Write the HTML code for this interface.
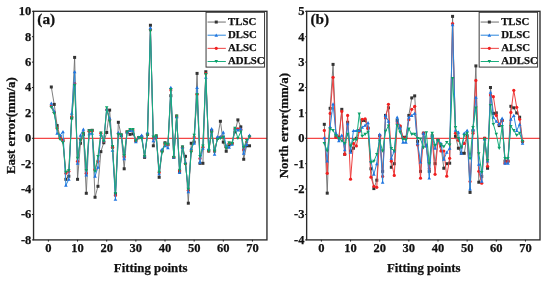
<!DOCTYPE html>
<html><head><meta charset="utf-8"><style>
html,body{margin:0;padding:0;background:#fff;width:550px;height:283px;overflow:hidden}
body{position:relative}
svg text{font-family:"Liberation Serif", "DejaVu Serif", serif;fill:#111;stroke:#111;stroke-width:0.25px}
</style></head><body>
<svg width="550" height="283" viewBox="0 0 550 283" style="position:absolute;left:0;top:0"><line x1="33.55" y1="138.30" x2="266.95" y2="138.30" stroke="#f01818" stroke-width="1"/><path d="M51.31 86.99 L54.23 104.39 L57.14 125.60 L60.06 136.39 L62.97 140.33 L65.89 179.32 L68.81 176.27 L71.72 117.98 L74.63 57.40 L77.55 179.32 L80.47 143.25 L83.38 134.49 L86.30 193.29 L89.21 130.68 L92.12 130.30 L95.04 197.23 L97.95 186.31 L100.87 151.64 L103.78 142.75 L106.70 132.46 L109.62 110.11 L112.53 147.19 L115.44 194.18 L118.36 122.30 L121.28 135.76 L124.19 168.78 L127.10 131.95 L130.02 134.36 L132.94 133.85 L135.85 140.84 L138.76 137.66 L141.68 137.03 L144.59 157.35 L147.51 134.49 L150.43 25.27 L153.34 145.79 L156.25 137.03 L159.17 177.29 L162.09 151.00 L165.00 142.75 L167.91 144.65 L170.83 95.75 L173.75 157.35 L176.66 116.71 L179.58 171.32 L182.49 147.19 L185.41 156.33 L188.32 203.20 L191.24 143.25 L194.15 142.11 L197.06 73.40 L199.98 163.32 L202.90 163.32 L205.81 71.75 L208.72 151.00 L211.64 130.68 L214.56 151.00 L217.47 138.30 L220.39 121.28 L223.30 142.11 L226.22 151.25 L229.13 144.65 L232.05 143.25 L234.96 131.95 L237.88 119.89 L240.79 126.87 L243.71 159.26 L246.62 145.79 L249.53 145.79" fill="none" stroke="#707070" stroke-width="0.9" stroke-linejoin="round"/><g><rect x="49.81" y="85.49" width="3.00" height="3.00" fill="#333333"/><rect x="52.73" y="102.89" width="3.00" height="3.00" fill="#333333"/><rect x="55.64" y="124.10" width="3.00" height="3.00" fill="#333333"/><rect x="58.56" y="134.89" width="3.00" height="3.00" fill="#333333"/><rect x="61.47" y="138.83" width="3.00" height="3.00" fill="#333333"/><rect x="64.39" y="177.82" width="3.00" height="3.00" fill="#333333"/><rect x="67.31" y="174.77" width="3.00" height="3.00" fill="#333333"/><rect x="70.22" y="116.48" width="3.00" height="3.00" fill="#333333"/><rect x="73.13" y="55.90" width="3.00" height="3.00" fill="#333333"/><rect x="76.05" y="177.82" width="3.00" height="3.00" fill="#333333"/><rect x="78.97" y="141.75" width="3.00" height="3.00" fill="#333333"/><rect x="81.88" y="132.99" width="3.00" height="3.00" fill="#333333"/><rect x="84.80" y="191.79" width="3.00" height="3.00" fill="#333333"/><rect x="87.71" y="129.18" width="3.00" height="3.00" fill="#333333"/><rect x="90.62" y="128.80" width="3.00" height="3.00" fill="#333333"/><rect x="93.54" y="195.73" width="3.00" height="3.00" fill="#333333"/><rect x="96.45" y="184.81" width="3.00" height="3.00" fill="#333333"/><rect x="99.37" y="150.14" width="3.00" height="3.00" fill="#333333"/><rect x="102.28" y="141.25" width="3.00" height="3.00" fill="#333333"/><rect x="105.20" y="130.96" width="3.00" height="3.00" fill="#333333"/><rect x="108.12" y="108.61" width="3.00" height="3.00" fill="#333333"/><rect x="111.03" y="145.69" width="3.00" height="3.00" fill="#333333"/><rect x="113.94" y="192.68" width="3.00" height="3.00" fill="#333333"/><rect x="116.86" y="120.80" width="3.00" height="3.00" fill="#333333"/><rect x="119.78" y="134.26" width="3.00" height="3.00" fill="#333333"/><rect x="122.69" y="167.28" width="3.00" height="3.00" fill="#333333"/><rect x="125.60" y="130.45" width="3.00" height="3.00" fill="#333333"/><rect x="128.52" y="132.86" width="3.00" height="3.00" fill="#333333"/><rect x="131.44" y="132.35" width="3.00" height="3.00" fill="#333333"/><rect x="134.35" y="139.34" width="3.00" height="3.00" fill="#333333"/><rect x="137.26" y="136.16" width="3.00" height="3.00" fill="#333333"/><rect x="140.18" y="135.53" width="3.00" height="3.00" fill="#333333"/><rect x="143.09" y="155.85" width="3.00" height="3.00" fill="#333333"/><rect x="146.01" y="132.99" width="3.00" height="3.00" fill="#333333"/><rect x="148.93" y="23.77" width="3.00" height="3.00" fill="#333333"/><rect x="151.84" y="144.29" width="3.00" height="3.00" fill="#333333"/><rect x="154.75" y="135.53" width="3.00" height="3.00" fill="#333333"/><rect x="157.67" y="175.79" width="3.00" height="3.00" fill="#333333"/><rect x="160.59" y="149.50" width="3.00" height="3.00" fill="#333333"/><rect x="163.50" y="141.25" width="3.00" height="3.00" fill="#333333"/><rect x="166.41" y="143.15" width="3.00" height="3.00" fill="#333333"/><rect x="169.33" y="94.25" width="3.00" height="3.00" fill="#333333"/><rect x="172.25" y="155.85" width="3.00" height="3.00" fill="#333333"/><rect x="175.16" y="115.21" width="3.00" height="3.00" fill="#333333"/><rect x="178.08" y="169.82" width="3.00" height="3.00" fill="#333333"/><rect x="180.99" y="145.69" width="3.00" height="3.00" fill="#333333"/><rect x="183.91" y="154.83" width="3.00" height="3.00" fill="#333333"/><rect x="186.82" y="201.70" width="3.00" height="3.00" fill="#333333"/><rect x="189.74" y="141.75" width="3.00" height="3.00" fill="#333333"/><rect x="192.65" y="140.61" width="3.00" height="3.00" fill="#333333"/><rect x="195.56" y="71.90" width="3.00" height="3.00" fill="#333333"/><rect x="198.48" y="161.82" width="3.00" height="3.00" fill="#333333"/><rect x="201.40" y="161.82" width="3.00" height="3.00" fill="#333333"/><rect x="204.31" y="70.25" width="3.00" height="3.00" fill="#333333"/><rect x="207.22" y="149.50" width="3.00" height="3.00" fill="#333333"/><rect x="210.14" y="129.18" width="3.00" height="3.00" fill="#333333"/><rect x="213.06" y="149.50" width="3.00" height="3.00" fill="#333333"/><rect x="215.97" y="136.80" width="3.00" height="3.00" fill="#333333"/><rect x="218.89" y="119.78" width="3.00" height="3.00" fill="#333333"/><rect x="221.80" y="140.61" width="3.00" height="3.00" fill="#333333"/><rect x="224.72" y="149.75" width="3.00" height="3.00" fill="#333333"/><rect x="227.63" y="143.15" width="3.00" height="3.00" fill="#333333"/><rect x="230.55" y="141.75" width="3.00" height="3.00" fill="#333333"/><rect x="233.46" y="130.45" width="3.00" height="3.00" fill="#333333"/><rect x="236.38" y="118.39" width="3.00" height="3.00" fill="#333333"/><rect x="239.29" y="125.37" width="3.00" height="3.00" fill="#333333"/><rect x="242.21" y="157.76" width="3.00" height="3.00" fill="#333333"/><rect x="245.12" y="144.29" width="3.00" height="3.00" fill="#333333"/><rect x="248.03" y="144.29" width="3.00" height="3.00" fill="#333333"/></g><path d="M51.31 105.92 L54.23 112.26 L57.14 128.14 L60.06 138.30 L62.97 140.84 L65.89 173.23 L68.81 171.32 L71.72 116.71 L74.63 83.31 L77.55 161.29 L80.47 139.57 L83.38 132.59 L86.30 173.23 L89.21 131.31 L92.12 130.93 L95.04 169.29 L97.95 161.16 L100.87 133.22 L103.78 141.47 L106.70 109.85 L109.62 119.89 L112.53 147.19 L115.44 195.45 L118.36 133.85 L121.28 134.74 L124.19 156.72 L127.10 131.95 L130.02 130.04 L132.94 130.04 L135.85 140.84 L138.76 137.66 L141.68 137.03 L144.59 156.08 L147.51 134.49 L150.43 29.84 L153.34 138.30 L156.25 135.76 L159.17 172.59 L162.09 151.00 L165.00 144.01 L167.91 144.65 L170.83 90.04 L173.75 157.35 L176.66 115.95 L179.58 170.69 L182.49 147.19 L185.41 163.70 L188.32 190.24 L191.24 151.00 L194.15 137.03 L197.06 94.36 L199.98 158.62 L202.90 147.19 L205.81 73.53 L208.72 151.00 L211.64 131.95 L214.56 151.00 L217.47 138.30 L220.39 137.03 L223.30 137.03 L226.22 147.19 L229.13 143.38 L232.05 143.38 L234.96 128.77 L237.88 128.77 L240.79 129.28 L243.71 149.73 L246.62 142.11 L249.53 136.39" fill="none" stroke="#ee4040" stroke-width="1.0" stroke-linejoin="round"/><g><circle cx="51.31" cy="105.92" r="1.6" fill="#f02020"/><circle cx="54.23" cy="112.26" r="1.6" fill="#f02020"/><circle cx="57.14" cy="128.14" r="1.6" fill="#f02020"/><circle cx="60.06" cy="138.30" r="1.6" fill="#f02020"/><circle cx="62.97" cy="140.84" r="1.6" fill="#f02020"/><circle cx="65.89" cy="173.23" r="1.6" fill="#f02020"/><circle cx="68.81" cy="171.32" r="1.6" fill="#f02020"/><circle cx="71.72" cy="116.71" r="1.6" fill="#f02020"/><circle cx="74.63" cy="83.31" r="1.6" fill="#f02020"/><circle cx="77.55" cy="161.29" r="1.6" fill="#f02020"/><circle cx="80.47" cy="139.57" r="1.6" fill="#f02020"/><circle cx="83.38" cy="132.59" r="1.6" fill="#f02020"/><circle cx="86.30" cy="173.23" r="1.6" fill="#f02020"/><circle cx="89.21" cy="131.31" r="1.6" fill="#f02020"/><circle cx="92.12" cy="130.93" r="1.6" fill="#f02020"/><circle cx="95.04" cy="169.29" r="1.6" fill="#f02020"/><circle cx="97.95" cy="161.16" r="1.6" fill="#f02020"/><circle cx="100.87" cy="133.22" r="1.6" fill="#f02020"/><circle cx="103.78" cy="141.47" r="1.6" fill="#f02020"/><circle cx="106.70" cy="109.85" r="1.6" fill="#f02020"/><circle cx="109.62" cy="119.89" r="1.6" fill="#f02020"/><circle cx="112.53" cy="147.19" r="1.6" fill="#f02020"/><circle cx="115.44" cy="195.45" r="1.6" fill="#f02020"/><circle cx="118.36" cy="133.85" r="1.6" fill="#f02020"/><circle cx="121.28" cy="134.74" r="1.6" fill="#f02020"/><circle cx="124.19" cy="156.72" r="1.6" fill="#f02020"/><circle cx="127.10" cy="131.95" r="1.6" fill="#f02020"/><circle cx="130.02" cy="130.04" r="1.6" fill="#f02020"/><circle cx="132.94" cy="130.04" r="1.6" fill="#f02020"/><circle cx="135.85" cy="140.84" r="1.6" fill="#f02020"/><circle cx="138.76" cy="137.66" r="1.6" fill="#f02020"/><circle cx="141.68" cy="137.03" r="1.6" fill="#f02020"/><circle cx="144.59" cy="156.08" r="1.6" fill="#f02020"/><circle cx="147.51" cy="134.49" r="1.6" fill="#f02020"/><circle cx="150.43" cy="29.84" r="1.6" fill="#f02020"/><circle cx="153.34" cy="138.30" r="1.6" fill="#f02020"/><circle cx="156.25" cy="135.76" r="1.6" fill="#f02020"/><circle cx="159.17" cy="172.59" r="1.6" fill="#f02020"/><circle cx="162.09" cy="151.00" r="1.6" fill="#f02020"/><circle cx="165.00" cy="144.01" r="1.6" fill="#f02020"/><circle cx="167.91" cy="144.65" r="1.6" fill="#f02020"/><circle cx="170.83" cy="90.04" r="1.6" fill="#f02020"/><circle cx="173.75" cy="157.35" r="1.6" fill="#f02020"/><circle cx="176.66" cy="115.95" r="1.6" fill="#f02020"/><circle cx="179.58" cy="170.69" r="1.6" fill="#f02020"/><circle cx="182.49" cy="147.19" r="1.6" fill="#f02020"/><circle cx="185.41" cy="163.70" r="1.6" fill="#f02020"/><circle cx="188.32" cy="190.24" r="1.6" fill="#f02020"/><circle cx="191.24" cy="151.00" r="1.6" fill="#f02020"/><circle cx="194.15" cy="137.03" r="1.6" fill="#f02020"/><circle cx="197.06" cy="94.36" r="1.6" fill="#f02020"/><circle cx="199.98" cy="158.62" r="1.6" fill="#f02020"/><circle cx="202.90" cy="147.19" r="1.6" fill="#f02020"/><circle cx="205.81" cy="73.53" r="1.6" fill="#f02020"/><circle cx="208.72" cy="151.00" r="1.6" fill="#f02020"/><circle cx="211.64" cy="131.95" r="1.6" fill="#f02020"/><circle cx="214.56" cy="151.00" r="1.6" fill="#f02020"/><circle cx="217.47" cy="138.30" r="1.6" fill="#f02020"/><circle cx="220.39" cy="137.03" r="1.6" fill="#f02020"/><circle cx="223.30" cy="137.03" r="1.6" fill="#f02020"/><circle cx="226.22" cy="147.19" r="1.6" fill="#f02020"/><circle cx="229.13" cy="143.38" r="1.6" fill="#f02020"/><circle cx="232.05" cy="143.38" r="1.6" fill="#f02020"/><circle cx="234.96" cy="128.77" r="1.6" fill="#f02020"/><circle cx="237.88" cy="128.77" r="1.6" fill="#f02020"/><circle cx="240.79" cy="129.28" r="1.6" fill="#f02020"/><circle cx="243.71" cy="149.73" r="1.6" fill="#f02020"/><circle cx="246.62" cy="142.11" r="1.6" fill="#f02020"/><circle cx="249.53" cy="136.39" r="1.6" fill="#f02020"/></g><path d="M51.31 103.38 L54.23 111.63 L57.14 133.22 L60.06 135.25 L62.97 131.70 L65.89 185.29 L68.81 179.32 L71.72 113.28 L74.63 71.75 L77.55 163.32 L80.47 135.25 L83.38 129.28 L86.30 175.13 L89.21 133.85 L92.12 133.22 L95.04 176.27 L97.95 167.26 L100.87 134.49 L103.78 140.84 L106.70 109.09 L109.62 117.98 L112.53 150.24 L115.44 199.26 L118.36 132.59 L121.28 135.12 L124.19 158.75 L127.10 131.95 L130.02 130.68 L132.94 130.68 L135.85 141.86 L138.76 137.28 L141.68 135.25 L144.59 156.08 L147.51 132.33 L150.43 27.81 L153.34 140.84 L156.25 136.39 L159.17 173.86 L162.09 149.35 L165.00 145.92 L167.91 147.83 L170.83 87.50 L173.75 157.35 L176.66 116.71 L179.58 172.59 L182.49 147.19 L185.41 162.43 L188.32 191.89 L191.24 148.46 L194.15 143.25 L197.06 87.50 L199.98 162.30 L202.90 148.33 L205.81 77.34 L208.72 148.46 L211.64 128.77 L214.56 154.30 L217.47 136.78 L220.39 137.03 L223.30 132.33 L226.22 145.92 L229.13 147.32 L232.05 144.27 L234.96 128.77 L237.88 130.04 L240.79 128.77 L243.71 153.29 L246.62 144.65 L249.53 135.25" fill="none" stroke="#2a86dc" stroke-width="1.0" stroke-linejoin="round"/><g><path d="M51.31 101.58L53.11 104.81L49.52 104.81Z" fill="#1f74e0"/><path d="M54.23 109.83L56.03 113.07L52.43 113.07Z" fill="#1f74e0"/><path d="M57.14 131.42L58.94 134.66L55.34 134.66Z" fill="#1f74e0"/><path d="M60.06 133.45L61.86 136.69L58.26 136.69Z" fill="#1f74e0"/><path d="M62.97 129.90L64.77 133.14L61.17 133.14Z" fill="#1f74e0"/><path d="M65.89 183.49L67.69 186.73L64.09 186.73Z" fill="#1f74e0"/><path d="M68.81 177.52L70.61 180.76L67.01 180.76Z" fill="#1f74e0"/><path d="M71.72 111.48L73.52 114.72L69.92 114.72Z" fill="#1f74e0"/><path d="M74.63 69.95L76.43 73.19L72.83 73.19Z" fill="#1f74e0"/><path d="M77.55 161.52L79.35 164.76L75.75 164.76Z" fill="#1f74e0"/><path d="M80.47 133.45L82.27 136.69L78.67 136.69Z" fill="#1f74e0"/><path d="M83.38 127.48L85.18 130.72L81.58 130.72Z" fill="#1f74e0"/><path d="M86.30 173.33L88.09 176.57L84.50 176.57Z" fill="#1f74e0"/><path d="M89.21 132.05L91.01 135.29L87.41 135.29Z" fill="#1f74e0"/><path d="M92.12 131.42L93.92 134.66L90.33 134.66Z" fill="#1f74e0"/><path d="M95.04 174.47L96.84 177.71L93.24 177.71Z" fill="#1f74e0"/><path d="M97.95 165.46L99.75 168.70L96.16 168.70Z" fill="#1f74e0"/><path d="M100.87 132.69L102.67 135.93L99.07 135.93Z" fill="#1f74e0"/><path d="M103.78 139.04L105.58 142.28L101.98 142.28Z" fill="#1f74e0"/><path d="M106.70 107.29L108.50 110.53L104.90 110.53Z" fill="#1f74e0"/><path d="M109.62 116.18L111.42 119.42L107.82 119.42Z" fill="#1f74e0"/><path d="M112.53 148.44L114.33 151.68L110.73 151.68Z" fill="#1f74e0"/><path d="M115.44 197.46L117.24 200.70L113.64 200.70Z" fill="#1f74e0"/><path d="M118.36 130.78L120.16 134.03L116.56 134.03Z" fill="#1f74e0"/><path d="M121.28 133.32L123.08 136.56L119.48 136.56Z" fill="#1f74e0"/><path d="M124.19 156.95L125.99 160.19L122.39 160.19Z" fill="#1f74e0"/><path d="M127.10 130.15L128.91 133.39L125.30 133.39Z" fill="#1f74e0"/><path d="M130.02 128.88L131.82 132.12L128.22 132.12Z" fill="#1f74e0"/><path d="M132.94 128.88L134.74 132.12L131.13 132.12Z" fill="#1f74e0"/><path d="M135.85 140.06L137.65 143.30L134.05 143.30Z" fill="#1f74e0"/><path d="M138.76 135.48L140.56 138.72L136.96 138.72Z" fill="#1f74e0"/><path d="M141.68 133.45L143.48 136.69L139.88 136.69Z" fill="#1f74e0"/><path d="M144.59 154.28L146.40 157.52L142.79 157.52Z" fill="#1f74e0"/><path d="M147.51 130.53L149.31 133.77L145.71 133.77Z" fill="#1f74e0"/><path d="M150.43 26.01L152.23 29.25L148.62 29.25Z" fill="#1f74e0"/><path d="M153.34 139.04L155.14 142.28L151.54 142.28Z" fill="#1f74e0"/><path d="M156.25 134.59L158.06 137.83L154.45 137.83Z" fill="#1f74e0"/><path d="M159.17 172.06L160.97 175.30L157.37 175.30Z" fill="#1f74e0"/><path d="M162.09 147.55L163.89 150.79L160.28 150.79Z" fill="#1f74e0"/><path d="M165.00 144.12L166.80 147.36L163.20 147.36Z" fill="#1f74e0"/><path d="M167.91 146.03L169.72 149.27L166.11 149.27Z" fill="#1f74e0"/><path d="M170.83 85.70L172.63 88.94L169.03 88.94Z" fill="#1f74e0"/><path d="M173.75 155.55L175.55 158.79L171.94 158.79Z" fill="#1f74e0"/><path d="M176.66 114.91L178.46 118.15L174.86 118.15Z" fill="#1f74e0"/><path d="M179.58 170.79L181.38 174.03L177.78 174.03Z" fill="#1f74e0"/><path d="M182.49 145.39L184.29 148.63L180.69 148.63Z" fill="#1f74e0"/><path d="M185.41 160.63L187.21 163.87L183.60 163.87Z" fill="#1f74e0"/><path d="M188.32 190.09L190.12 193.33L186.52 193.33Z" fill="#1f74e0"/><path d="M191.24 146.66L193.04 149.90L189.44 149.90Z" fill="#1f74e0"/><path d="M194.15 141.45L195.95 144.69L192.35 144.69Z" fill="#1f74e0"/><path d="M197.06 85.70L198.87 88.94L195.26 88.94Z" fill="#1f74e0"/><path d="M199.98 160.50L201.78 163.74L198.18 163.74Z" fill="#1f74e0"/><path d="M202.90 146.53L204.70 149.77L201.09 149.77Z" fill="#1f74e0"/><path d="M205.81 75.54L207.61 78.78L204.01 78.78Z" fill="#1f74e0"/><path d="M208.72 146.66L210.53 149.90L206.92 149.90Z" fill="#1f74e0"/><path d="M211.64 126.97L213.44 130.21L209.84 130.21Z" fill="#1f74e0"/><path d="M214.56 152.50L216.36 155.74L212.75 155.74Z" fill="#1f74e0"/><path d="M217.47 134.98L219.27 138.22L215.67 138.22Z" fill="#1f74e0"/><path d="M220.39 135.23L222.19 138.47L218.59 138.47Z" fill="#1f74e0"/><path d="M223.30 130.53L225.10 133.77L221.50 133.77Z" fill="#1f74e0"/><path d="M226.22 144.12L228.02 147.36L224.41 147.36Z" fill="#1f74e0"/><path d="M229.13 145.52L230.93 148.76L227.33 148.76Z" fill="#1f74e0"/><path d="M232.05 142.47L233.85 145.71L230.25 145.71Z" fill="#1f74e0"/><path d="M234.96 126.97L236.76 130.21L233.16 130.21Z" fill="#1f74e0"/><path d="M237.88 128.24L239.68 131.48L236.07 131.48Z" fill="#1f74e0"/><path d="M240.79 126.97L242.59 130.21L238.99 130.21Z" fill="#1f74e0"/><path d="M243.71 151.49L245.51 154.73L241.91 154.73Z" fill="#1f74e0"/><path d="M246.62 142.85L248.42 146.09L244.82 146.09Z" fill="#1f74e0"/><path d="M249.53 133.45L251.34 136.69L247.73 136.69Z" fill="#1f74e0"/></g><path d="M51.31 107.31 L54.23 113.53 L57.14 128.77 L60.06 139.32 L62.97 142.75 L65.89 172.21 L68.81 170.30 L71.72 118.61 L74.63 85.34 L77.55 158.24 L80.47 140.21 L83.38 133.35 L86.30 170.30 L89.21 130.81 L92.12 130.68 L95.04 171.32 L97.95 156.33 L100.87 132.84 L103.78 141.35 L106.70 107.57 L109.62 121.16 L112.53 146.30 L115.44 193.29 L118.36 134.49 L121.28 134.74 L124.19 155.32 L127.10 131.82 L130.02 129.28 L132.94 129.28 L135.85 140.84 L138.76 137.66 L141.68 138.30 L144.59 156.33 L147.51 135.25 L150.43 30.99 L153.34 136.78 L156.25 135.76 L159.17 172.21 L162.09 152.27 L165.00 143.76 L167.91 144.27 L170.83 89.28 L173.75 157.35 L176.66 115.95 L179.58 170.05 L182.49 146.81 L185.41 164.34 L188.32 189.10 L191.24 152.27 L194.15 135.25 L197.06 94.36 L199.98 156.33 L202.90 145.92 L205.81 74.29 L208.72 151.25 L211.64 132.33 L214.56 151.25 L217.47 139.32 L220.39 138.30 L223.30 137.03 L226.22 148.33 L229.13 142.75 L232.05 143.38 L234.96 128.27 L237.88 138.30 L240.79 131.82 L243.71 147.32 L246.62 140.33 L249.53 136.78" fill="none" stroke="#1aad7e" stroke-width="1.0" stroke-linejoin="round"/><g><path d="M51.31 109.06L53.06 105.91L49.56 105.91Z" fill="#0c9f68"/><path d="M54.23 115.28L55.98 112.13L52.48 112.13Z" fill="#0c9f68"/><path d="M57.14 130.52L58.89 127.37L55.39 127.37Z" fill="#0c9f68"/><path d="M60.06 141.07L61.81 137.92L58.31 137.92Z" fill="#0c9f68"/><path d="M62.97 144.50L64.72 141.34L61.22 141.34Z" fill="#0c9f68"/><path d="M65.89 173.96L67.64 170.81L64.14 170.81Z" fill="#0c9f68"/><path d="M68.81 172.05L70.56 168.90L67.06 168.90Z" fill="#0c9f68"/><path d="M71.72 120.36L73.47 117.21L69.97 117.21Z" fill="#0c9f68"/><path d="M74.63 87.09L76.38 83.94L72.88 83.94Z" fill="#0c9f68"/><path d="M77.55 159.99L79.30 156.84L75.80 156.84Z" fill="#0c9f68"/><path d="M80.47 141.96L82.22 138.81L78.72 138.81Z" fill="#0c9f68"/><path d="M83.38 135.10L85.13 131.95L81.63 131.95Z" fill="#0c9f68"/><path d="M86.30 172.05L88.05 168.90L84.55 168.90Z" fill="#0c9f68"/><path d="M89.21 132.56L90.96 129.41L87.46 129.41Z" fill="#0c9f68"/><path d="M92.12 132.43L93.88 129.28L90.38 129.28Z" fill="#0c9f68"/><path d="M95.04 173.07L96.79 169.92L93.29 169.92Z" fill="#0c9f68"/><path d="M97.95 158.08L99.70 154.93L96.20 154.93Z" fill="#0c9f68"/><path d="M100.87 134.59L102.62 131.44L99.12 131.44Z" fill="#0c9f68"/><path d="M103.78 143.10L105.53 139.95L102.03 139.95Z" fill="#0c9f68"/><path d="M106.70 109.32L108.45 106.17L104.95 106.17Z" fill="#0c9f68"/><path d="M109.62 122.91L111.37 119.75L107.87 119.75Z" fill="#0c9f68"/><path d="M112.53 148.05L114.28 144.90L110.78 144.90Z" fill="#0c9f68"/><path d="M115.44 195.04L117.19 191.89L113.69 191.89Z" fill="#0c9f68"/><path d="M118.36 136.24L120.11 133.09L116.61 133.09Z" fill="#0c9f68"/><path d="M121.28 136.49L123.03 133.34L119.53 133.34Z" fill="#0c9f68"/><path d="M124.19 157.07L125.94 153.92L122.44 153.92Z" fill="#0c9f68"/><path d="M127.10 133.57L128.85 130.42L125.35 130.42Z" fill="#0c9f68"/><path d="M130.02 131.03L131.77 127.88L128.27 127.88Z" fill="#0c9f68"/><path d="M132.94 131.03L134.69 127.88L131.19 127.88Z" fill="#0c9f68"/><path d="M135.85 142.59L137.60 139.44L134.10 139.44Z" fill="#0c9f68"/><path d="M138.76 139.41L140.51 136.26L137.01 136.26Z" fill="#0c9f68"/><path d="M141.68 140.05L143.43 136.90L139.93 136.90Z" fill="#0c9f68"/><path d="M144.59 158.08L146.34 154.93L142.84 154.93Z" fill="#0c9f68"/><path d="M147.51 137.00L149.26 133.85L145.76 133.85Z" fill="#0c9f68"/><path d="M150.43 32.74L152.18 29.59L148.68 29.59Z" fill="#0c9f68"/><path d="M153.34 138.53L155.09 135.38L151.59 135.38Z" fill="#0c9f68"/><path d="M156.25 137.51L158.00 134.36L154.50 134.36Z" fill="#0c9f68"/><path d="M159.17 173.96L160.92 170.81L157.42 170.81Z" fill="#0c9f68"/><path d="M162.09 154.02L163.84 150.87L160.34 150.87Z" fill="#0c9f68"/><path d="M165.00 145.51L166.75 142.36L163.25 142.36Z" fill="#0c9f68"/><path d="M167.91 146.02L169.66 142.87L166.16 142.87Z" fill="#0c9f68"/><path d="M170.83 91.03L172.58 87.88L169.08 87.88Z" fill="#0c9f68"/><path d="M173.75 159.10L175.50 155.95L172.00 155.95Z" fill="#0c9f68"/><path d="M176.66 117.70L178.41 114.55L174.91 114.55Z" fill="#0c9f68"/><path d="M179.58 171.80L181.33 168.65L177.83 168.65Z" fill="#0c9f68"/><path d="M182.49 148.56L184.24 145.41L180.74 145.41Z" fill="#0c9f68"/><path d="M185.41 166.09L187.16 162.94L183.66 162.94Z" fill="#0c9f68"/><path d="M188.32 190.85L190.07 187.70L186.57 187.70Z" fill="#0c9f68"/><path d="M191.24 154.02L192.99 150.87L189.49 150.87Z" fill="#0c9f68"/><path d="M194.15 137.00L195.90 133.85L192.40 133.85Z" fill="#0c9f68"/><path d="M197.06 96.11L198.81 92.96L195.31 92.96Z" fill="#0c9f68"/><path d="M199.98 158.08L201.73 154.93L198.23 154.93Z" fill="#0c9f68"/><path d="M202.90 147.67L204.65 144.52L201.15 144.52Z" fill="#0c9f68"/><path d="M205.81 76.04L207.56 72.89L204.06 72.89Z" fill="#0c9f68"/><path d="M208.72 153.00L210.47 149.85L206.97 149.85Z" fill="#0c9f68"/><path d="M211.64 134.08L213.39 130.93L209.89 130.93Z" fill="#0c9f68"/><path d="M214.56 153.00L216.31 149.85L212.81 149.85Z" fill="#0c9f68"/><path d="M217.47 141.07L219.22 137.92L215.72 137.92Z" fill="#0c9f68"/><path d="M220.39 140.05L222.14 136.90L218.64 136.90Z" fill="#0c9f68"/><path d="M223.30 138.78L225.05 135.63L221.55 135.63Z" fill="#0c9f68"/><path d="M226.22 150.08L227.97 146.93L224.47 146.93Z" fill="#0c9f68"/><path d="M229.13 144.50L230.88 141.34L227.38 141.34Z" fill="#0c9f68"/><path d="M232.05 145.13L233.80 141.98L230.30 141.98Z" fill="#0c9f68"/><path d="M234.96 130.02L236.71 126.87L233.21 126.87Z" fill="#0c9f68"/><path d="M237.88 140.05L239.62 136.90L236.12 136.90Z" fill="#0c9f68"/><path d="M240.79 133.57L242.54 130.42L239.04 130.42Z" fill="#0c9f68"/><path d="M243.71 149.07L245.46 145.92L241.96 145.92Z" fill="#0c9f68"/><path d="M246.62 142.08L248.37 138.93L244.87 138.93Z" fill="#0c9f68"/><path d="M249.53 138.53L251.28 135.38L247.78 135.38Z" fill="#0c9f68"/></g><rect x="33.55" y="11.30" width="233.40" height="228.60" fill="none" stroke="#2a2a2a" stroke-width="1.35"/><line x1="31.95" y1="239.90" x2="33.55" y2="239.90" stroke="#222" stroke-width="1"/><text x="31.30" y="243.80" text-anchor="end" font-size="12.5" font-weight="bold">-8</text><line x1="31.95" y1="214.50" x2="33.55" y2="214.50" stroke="#222" stroke-width="1"/><text x="31.30" y="218.40" text-anchor="end" font-size="12.5" font-weight="bold">-6</text><line x1="31.95" y1="189.10" x2="33.55" y2="189.10" stroke="#222" stroke-width="1"/><text x="31.30" y="193.00" text-anchor="end" font-size="12.5" font-weight="bold">-4</text><line x1="31.95" y1="163.70" x2="33.55" y2="163.70" stroke="#222" stroke-width="1"/><text x="31.30" y="167.60" text-anchor="end" font-size="12.5" font-weight="bold">-2</text><line x1="31.95" y1="138.30" x2="33.55" y2="138.30" stroke="#222" stroke-width="1"/><text x="31.30" y="142.20" text-anchor="end" font-size="12.5" font-weight="bold">0</text><line x1="31.95" y1="112.90" x2="33.55" y2="112.90" stroke="#222" stroke-width="1"/><text x="31.30" y="116.80" text-anchor="end" font-size="12.5" font-weight="bold">2</text><line x1="31.95" y1="87.50" x2="33.55" y2="87.50" stroke="#222" stroke-width="1"/><text x="31.30" y="91.40" text-anchor="end" font-size="12.5" font-weight="bold">4</text><line x1="31.95" y1="62.10" x2="33.55" y2="62.10" stroke="#222" stroke-width="1"/><text x="31.30" y="66.00" text-anchor="end" font-size="12.5" font-weight="bold">6</text><line x1="31.95" y1="36.70" x2="33.55" y2="36.70" stroke="#222" stroke-width="1"/><text x="31.30" y="40.60" text-anchor="end" font-size="12.5" font-weight="bold">8</text><line x1="31.95" y1="11.30" x2="33.55" y2="11.30" stroke="#222" stroke-width="1"/><text x="31.30" y="15.20" text-anchor="end" font-size="12.5" font-weight="bold">10</text><line x1="48.40" y1="239.90" x2="48.40" y2="241.60" stroke="#222" stroke-width="1"/><text x="48.40" y="252.30" text-anchor="middle" font-size="12.5" font-weight="bold">0</text><line x1="77.55" y1="239.90" x2="77.55" y2="241.60" stroke="#222" stroke-width="1"/><text x="77.55" y="252.30" text-anchor="middle" font-size="12.5" font-weight="bold">10</text><line x1="106.70" y1="239.90" x2="106.70" y2="241.60" stroke="#222" stroke-width="1"/><text x="106.70" y="252.30" text-anchor="middle" font-size="12.5" font-weight="bold">20</text><line x1="135.85" y1="239.90" x2="135.85" y2="241.60" stroke="#222" stroke-width="1"/><text x="135.85" y="252.30" text-anchor="middle" font-size="12.5" font-weight="bold">30</text><line x1="165.00" y1="239.90" x2="165.00" y2="241.60" stroke="#222" stroke-width="1"/><text x="165.00" y="252.30" text-anchor="middle" font-size="12.5" font-weight="bold">40</text><line x1="194.15" y1="239.90" x2="194.15" y2="241.60" stroke="#222" stroke-width="1"/><text x="194.15" y="252.30" text-anchor="middle" font-size="12.5" font-weight="bold">50</text><line x1="223.30" y1="239.90" x2="223.30" y2="241.60" stroke="#222" stroke-width="1"/><text x="223.30" y="252.30" text-anchor="middle" font-size="12.5" font-weight="bold">60</text><line x1="252.45" y1="239.90" x2="252.45" y2="241.60" stroke="#222" stroke-width="1"/><text x="252.45" y="252.30" text-anchor="middle" font-size="12.5" font-weight="bold">70</text><text x="150.65" y="272.2" text-anchor="middle" font-size="12.8" font-weight="bold">Fitting points</text><text transform="translate(15.30,125.60) rotate(-90)" x="0" y="0" text-anchor="middle" font-size="12.9" font-weight="bold">East error(mm/a)</text><text x="37.35" y="24.20" font-size="15.3" font-weight="bold">(a)</text><rect x="206.05" y="12.30" width="58.50" height="54.80" fill="#fff" stroke="#3a3a3a" stroke-width="1"/><line x1="207.55" y1="22.05" x2="225.85" y2="22.05" stroke="#707070" stroke-width="1"/><rect x="214.75" y="20.55" width="3.00" height="3.00" fill="#333333"/><text x="228.05" y="24.90" font-size="10.8" font-weight="bold">TLSC</text><line x1="207.55" y1="35.20" x2="225.85" y2="35.20" stroke="#2a86dc" stroke-width="1"/><path d="M216.25 33.40L218.05 36.64L214.45 36.64Z" fill="#1f74e0"/><text x="228.05" y="38.05" font-size="10.8" font-weight="bold">DLSC</text><line x1="207.55" y1="48.35" x2="225.85" y2="48.35" stroke="#ee4040" stroke-width="1"/><circle cx="216.25" cy="48.35" r="1.6" fill="#f02020"/><text x="228.05" y="51.20" font-size="10.8" font-weight="bold">ALSC</text><line x1="207.55" y1="61.50" x2="225.85" y2="61.50" stroke="#1aad7e" stroke-width="1"/><path d="M216.25 63.25L218.00 60.10L214.50 60.10Z" fill="#0c9f68"/><text x="228.05" y="64.35" font-size="10.8" font-weight="bold">ADLSC</text><line x1="306.65" y1="138.30" x2="540.00" y2="138.30" stroke="#f01818" stroke-width="1"/><path d="M324.31 124.33 L327.23 193.16 L330.14 108.33 L333.06 64.39 L335.97 135.76 L338.89 137.03 L341.80 109.34 L344.72 154.30 L347.63 122.30 L350.55 151.00 L353.46 148.21 L356.38 138.30 L359.29 130.68 L362.21 120.52 L365.12 120.52 L368.04 128.14 L370.95 168.78 L373.87 188.59 L376.78 180.21 L379.70 135.76 L382.62 171.32 L385.53 115.44 L388.44 107.82 L391.36 167.26 L394.27 163.70 L397.19 120.52 L400.10 126.87 L403.02 137.28 L405.93 137.28 L408.85 115.44 L411.76 97.91 L414.68 95.88 L417.59 141.35 L420.51 171.32 L423.42 133.22 L426.34 145.92 L429.25 171.32 L432.17 135.76 L435.08 163.70 L438.00 140.33 L440.91 145.92 L443.83 168.27 L446.75 163.70 L449.66 163.19 L452.57 16.38 L455.49 136.27 L458.40 148.21 L461.32 153.29 L464.24 153.29 L467.15 135.76 L470.06 192.40 L472.98 130.68 L475.89 65.91 L478.81 182.24 L481.72 176.40 L484.64 138.30 L487.55 168.27 L490.47 87.50 L493.38 113.41 L496.30 112.90 L499.21 125.60 L502.13 120.52 L505.04 161.16 L507.96 161.16 L510.88 106.30 L513.79 107.82 L516.70 112.90 L519.62 117.22 L522.53 141.35" fill="none" stroke="#707070" stroke-width="0.9" stroke-linejoin="round"/><g><rect x="322.81" y="122.83" width="3.00" height="3.00" fill="#333333"/><rect x="325.73" y="191.66" width="3.00" height="3.00" fill="#333333"/><rect x="328.64" y="106.83" width="3.00" height="3.00" fill="#333333"/><rect x="331.56" y="62.89" width="3.00" height="3.00" fill="#333333"/><rect x="334.47" y="134.26" width="3.00" height="3.00" fill="#333333"/><rect x="337.39" y="135.53" width="3.00" height="3.00" fill="#333333"/><rect x="340.30" y="107.84" width="3.00" height="3.00" fill="#333333"/><rect x="343.22" y="152.80" width="3.00" height="3.00" fill="#333333"/><rect x="346.13" y="120.80" width="3.00" height="3.00" fill="#333333"/><rect x="349.05" y="149.50" width="3.00" height="3.00" fill="#333333"/><rect x="351.96" y="146.71" width="3.00" height="3.00" fill="#333333"/><rect x="354.88" y="136.80" width="3.00" height="3.00" fill="#333333"/><rect x="357.79" y="129.18" width="3.00" height="3.00" fill="#333333"/><rect x="360.71" y="119.02" width="3.00" height="3.00" fill="#333333"/><rect x="363.62" y="119.02" width="3.00" height="3.00" fill="#333333"/><rect x="366.54" y="126.64" width="3.00" height="3.00" fill="#333333"/><rect x="369.45" y="167.28" width="3.00" height="3.00" fill="#333333"/><rect x="372.37" y="187.09" width="3.00" height="3.00" fill="#333333"/><rect x="375.28" y="178.71" width="3.00" height="3.00" fill="#333333"/><rect x="378.20" y="134.26" width="3.00" height="3.00" fill="#333333"/><rect x="381.12" y="169.82" width="3.00" height="3.00" fill="#333333"/><rect x="384.03" y="113.94" width="3.00" height="3.00" fill="#333333"/><rect x="386.94" y="106.32" width="3.00" height="3.00" fill="#333333"/><rect x="389.86" y="165.76" width="3.00" height="3.00" fill="#333333"/><rect x="392.77" y="162.20" width="3.00" height="3.00" fill="#333333"/><rect x="395.69" y="119.02" width="3.00" height="3.00" fill="#333333"/><rect x="398.60" y="125.37" width="3.00" height="3.00" fill="#333333"/><rect x="401.52" y="135.78" width="3.00" height="3.00" fill="#333333"/><rect x="404.43" y="135.78" width="3.00" height="3.00" fill="#333333"/><rect x="407.35" y="113.94" width="3.00" height="3.00" fill="#333333"/><rect x="410.26" y="96.41" width="3.00" height="3.00" fill="#333333"/><rect x="413.18" y="94.38" width="3.00" height="3.00" fill="#333333"/><rect x="416.09" y="139.85" width="3.00" height="3.00" fill="#333333"/><rect x="419.01" y="169.82" width="3.00" height="3.00" fill="#333333"/><rect x="421.92" y="131.72" width="3.00" height="3.00" fill="#333333"/><rect x="424.84" y="144.42" width="3.00" height="3.00" fill="#333333"/><rect x="427.75" y="169.82" width="3.00" height="3.00" fill="#333333"/><rect x="430.67" y="134.26" width="3.00" height="3.00" fill="#333333"/><rect x="433.58" y="162.20" width="3.00" height="3.00" fill="#333333"/><rect x="436.50" y="138.83" width="3.00" height="3.00" fill="#333333"/><rect x="439.41" y="144.42" width="3.00" height="3.00" fill="#333333"/><rect x="442.33" y="166.77" width="3.00" height="3.00" fill="#333333"/><rect x="445.25" y="162.20" width="3.00" height="3.00" fill="#333333"/><rect x="448.16" y="161.69" width="3.00" height="3.00" fill="#333333"/><rect x="451.07" y="14.88" width="3.00" height="3.00" fill="#333333"/><rect x="453.99" y="134.77" width="3.00" height="3.00" fill="#333333"/><rect x="456.90" y="146.71" width="3.00" height="3.00" fill="#333333"/><rect x="459.82" y="151.79" width="3.00" height="3.00" fill="#333333"/><rect x="462.74" y="151.79" width="3.00" height="3.00" fill="#333333"/><rect x="465.65" y="134.26" width="3.00" height="3.00" fill="#333333"/><rect x="468.56" y="190.90" width="3.00" height="3.00" fill="#333333"/><rect x="471.48" y="129.18" width="3.00" height="3.00" fill="#333333"/><rect x="474.39" y="64.41" width="3.00" height="3.00" fill="#333333"/><rect x="477.31" y="180.74" width="3.00" height="3.00" fill="#333333"/><rect x="480.22" y="174.90" width="3.00" height="3.00" fill="#333333"/><rect x="483.14" y="136.80" width="3.00" height="3.00" fill="#333333"/><rect x="486.05" y="166.77" width="3.00" height="3.00" fill="#333333"/><rect x="488.97" y="86.00" width="3.00" height="3.00" fill="#333333"/><rect x="491.88" y="111.91" width="3.00" height="3.00" fill="#333333"/><rect x="494.80" y="111.40" width="3.00" height="3.00" fill="#333333"/><rect x="497.71" y="124.10" width="3.00" height="3.00" fill="#333333"/><rect x="500.63" y="119.02" width="3.00" height="3.00" fill="#333333"/><rect x="503.54" y="159.66" width="3.00" height="3.00" fill="#333333"/><rect x="506.46" y="159.66" width="3.00" height="3.00" fill="#333333"/><rect x="509.38" y="104.80" width="3.00" height="3.00" fill="#333333"/><rect x="512.29" y="106.32" width="3.00" height="3.00" fill="#333333"/><rect x="515.20" y="111.40" width="3.00" height="3.00" fill="#333333"/><rect x="518.12" y="115.72" width="3.00" height="3.00" fill="#333333"/><rect x="521.03" y="139.85" width="3.00" height="3.00" fill="#333333"/></g><path d="M324.31 130.43 L327.23 173.35 L330.14 113.41 L333.06 77.34 L335.97 137.28 L338.89 138.30 L341.80 111.38 L344.72 154.30 L347.63 115.44 L350.55 179.19 L353.46 143.38 L356.38 145.92 L359.29 131.19 L362.21 119.25 L365.12 118.74 L368.04 128.14 L370.95 177.16 L373.87 186.31 L376.78 187.32 L379.70 135.76 L382.62 176.40 L385.53 117.98 L388.44 104.26 L391.36 161.16 L394.27 175.38 L397.19 123.06 L400.10 125.85 L403.02 138.30 L405.93 138.30 L408.85 119.76 L411.76 109.34 L414.68 106.30 L417.59 144.90 L420.51 178.18 L423.42 133.22 L426.34 145.92 L429.25 168.78 L432.17 138.30 L435.08 174.37 L438.00 139.82 L440.91 151.00 L443.83 151.00 L446.75 176.15 L449.66 158.37 L452.57 23.49 L455.49 133.22 L458.40 140.33 L461.32 147.19 L464.24 143.38 L467.15 137.03 L470.06 181.48 L472.98 133.22 L475.89 80.39 L478.81 171.32 L481.72 183.26 L484.64 138.30 L487.55 166.24 L490.47 95.12 L493.38 96.64 L496.30 115.44 L499.21 124.33 L502.13 120.27 L505.04 163.19 L507.96 161.16 L510.88 112.39 L513.79 90.29 L516.70 107.31 L519.62 119.25 L522.53 141.35" fill="none" stroke="#ee4040" stroke-width="1.0" stroke-linejoin="round"/><g><circle cx="324.31" cy="130.43" r="1.6" fill="#f02020"/><circle cx="327.23" cy="173.35" r="1.6" fill="#f02020"/><circle cx="330.14" cy="113.41" r="1.6" fill="#f02020"/><circle cx="333.06" cy="77.34" r="1.6" fill="#f02020"/><circle cx="335.97" cy="137.28" r="1.6" fill="#f02020"/><circle cx="338.89" cy="138.30" r="1.6" fill="#f02020"/><circle cx="341.80" cy="111.38" r="1.6" fill="#f02020"/><circle cx="344.72" cy="154.30" r="1.6" fill="#f02020"/><circle cx="347.63" cy="115.44" r="1.6" fill="#f02020"/><circle cx="350.55" cy="179.19" r="1.6" fill="#f02020"/><circle cx="353.46" cy="143.38" r="1.6" fill="#f02020"/><circle cx="356.38" cy="145.92" r="1.6" fill="#f02020"/><circle cx="359.29" cy="131.19" r="1.6" fill="#f02020"/><circle cx="362.21" cy="119.25" r="1.6" fill="#f02020"/><circle cx="365.12" cy="118.74" r="1.6" fill="#f02020"/><circle cx="368.04" cy="128.14" r="1.6" fill="#f02020"/><circle cx="370.95" cy="177.16" r="1.6" fill="#f02020"/><circle cx="373.87" cy="186.31" r="1.6" fill="#f02020"/><circle cx="376.78" cy="187.32" r="1.6" fill="#f02020"/><circle cx="379.70" cy="135.76" r="1.6" fill="#f02020"/><circle cx="382.62" cy="176.40" r="1.6" fill="#f02020"/><circle cx="385.53" cy="117.98" r="1.6" fill="#f02020"/><circle cx="388.44" cy="104.26" r="1.6" fill="#f02020"/><circle cx="391.36" cy="161.16" r="1.6" fill="#f02020"/><circle cx="394.27" cy="175.38" r="1.6" fill="#f02020"/><circle cx="397.19" cy="123.06" r="1.6" fill="#f02020"/><circle cx="400.10" cy="125.85" r="1.6" fill="#f02020"/><circle cx="403.02" cy="138.30" r="1.6" fill="#f02020"/><circle cx="405.93" cy="138.30" r="1.6" fill="#f02020"/><circle cx="408.85" cy="119.76" r="1.6" fill="#f02020"/><circle cx="411.76" cy="109.34" r="1.6" fill="#f02020"/><circle cx="414.68" cy="106.30" r="1.6" fill="#f02020"/><circle cx="417.59" cy="144.90" r="1.6" fill="#f02020"/><circle cx="420.51" cy="178.18" r="1.6" fill="#f02020"/><circle cx="423.42" cy="133.22" r="1.6" fill="#f02020"/><circle cx="426.34" cy="145.92" r="1.6" fill="#f02020"/><circle cx="429.25" cy="168.78" r="1.6" fill="#f02020"/><circle cx="432.17" cy="138.30" r="1.6" fill="#f02020"/><circle cx="435.08" cy="174.37" r="1.6" fill="#f02020"/><circle cx="438.00" cy="139.82" r="1.6" fill="#f02020"/><circle cx="440.91" cy="151.00" r="1.6" fill="#f02020"/><circle cx="443.83" cy="151.00" r="1.6" fill="#f02020"/><circle cx="446.75" cy="176.15" r="1.6" fill="#f02020"/><circle cx="449.66" cy="158.37" r="1.6" fill="#f02020"/><circle cx="452.57" cy="23.49" r="1.6" fill="#f02020"/><circle cx="455.49" cy="133.22" r="1.6" fill="#f02020"/><circle cx="458.40" cy="140.33" r="1.6" fill="#f02020"/><circle cx="461.32" cy="147.19" r="1.6" fill="#f02020"/><circle cx="464.24" cy="143.38" r="1.6" fill="#f02020"/><circle cx="467.15" cy="137.03" r="1.6" fill="#f02020"/><circle cx="470.06" cy="181.48" r="1.6" fill="#f02020"/><circle cx="472.98" cy="133.22" r="1.6" fill="#f02020"/><circle cx="475.89" cy="80.39" r="1.6" fill="#f02020"/><circle cx="478.81" cy="171.32" r="1.6" fill="#f02020"/><circle cx="481.72" cy="183.26" r="1.6" fill="#f02020"/><circle cx="484.64" cy="138.30" r="1.6" fill="#f02020"/><circle cx="487.55" cy="166.24" r="1.6" fill="#f02020"/><circle cx="490.47" cy="95.12" r="1.6" fill="#f02020"/><circle cx="493.38" cy="96.64" r="1.6" fill="#f02020"/><circle cx="496.30" cy="115.44" r="1.6" fill="#f02020"/><circle cx="499.21" cy="124.33" r="1.6" fill="#f02020"/><circle cx="502.13" cy="120.27" r="1.6" fill="#f02020"/><circle cx="505.04" cy="163.19" r="1.6" fill="#f02020"/><circle cx="507.96" cy="161.16" r="1.6" fill="#f02020"/><circle cx="510.88" cy="112.39" r="1.6" fill="#f02020"/><circle cx="513.79" cy="90.29" r="1.6" fill="#f02020"/><circle cx="516.70" cy="107.31" r="1.6" fill="#f02020"/><circle cx="519.62" cy="119.25" r="1.6" fill="#f02020"/><circle cx="522.53" cy="141.35" r="1.6" fill="#f02020"/></g><path d="M324.31 137.79 L327.23 161.16 L330.14 126.87 L333.06 104.01 L335.97 133.22 L338.89 140.84 L341.80 135.25 L344.72 149.73 L347.63 123.82 L350.55 152.27 L353.46 130.68 L356.38 130.68 L359.29 130.68 L362.21 127.38 L365.12 125.35 L368.04 122.81 L370.95 161.16 L373.87 174.37 L376.78 163.70 L379.70 134.24 L382.62 182.24 L385.53 115.44 L388.44 121.28 L391.36 158.37 L394.27 151.00 L397.19 117.22 L400.10 128.14 L403.02 142.36 L405.93 142.36 L408.85 117.22 L411.76 115.44 L414.68 113.41 L417.59 143.38 L420.51 162.18 L423.42 133.22 L426.34 145.41 L429.25 178.18 L432.17 135.76 L435.08 148.21 L438.00 139.82 L440.91 143.38 L443.83 159.38 L446.75 152.27 L449.66 148.21 L452.57 24.76 L455.49 130.43 L458.40 132.20 L461.32 153.29 L464.24 133.22 L467.15 130.43 L470.06 189.10 L472.98 129.41 L475.89 97.41 L478.81 164.21 L481.72 181.23 L484.64 139.32 L487.55 161.16 L490.47 92.33 L493.38 117.22 L496.30 121.28 L499.21 124.33 L502.13 118.23 L505.04 163.19 L507.96 163.19 L510.88 119.25 L513.79 115.44 L516.70 130.68 L519.62 124.33 L522.53 143.38" fill="none" stroke="#2a86dc" stroke-width="1.0" stroke-linejoin="round"/><g><path d="M324.31 135.99L326.12 139.23L322.51 139.23Z" fill="#1f74e0"/><path d="M327.23 159.36L329.03 162.60L325.43 162.60Z" fill="#1f74e0"/><path d="M330.14 125.07L331.94 128.31L328.34 128.31Z" fill="#1f74e0"/><path d="M333.06 102.21L334.86 105.45L331.26 105.45Z" fill="#1f74e0"/><path d="M335.97 131.42L337.77 134.66L334.17 134.66Z" fill="#1f74e0"/><path d="M338.89 139.04L340.69 142.28L337.09 142.28Z" fill="#1f74e0"/><path d="M341.80 133.45L343.60 136.69L340.00 136.69Z" fill="#1f74e0"/><path d="M344.72 147.93L346.52 151.17L342.92 151.17Z" fill="#1f74e0"/><path d="M347.63 122.02L349.44 125.26L345.83 125.26Z" fill="#1f74e0"/><path d="M350.55 150.47L352.35 153.71L348.75 153.71Z" fill="#1f74e0"/><path d="M353.46 128.88L355.26 132.12L351.66 132.12Z" fill="#1f74e0"/><path d="M356.38 128.88L358.18 132.12L354.58 132.12Z" fill="#1f74e0"/><path d="M359.29 128.88L361.09 132.12L357.49 132.12Z" fill="#1f74e0"/><path d="M362.21 125.58L364.01 128.82L360.41 128.82Z" fill="#1f74e0"/><path d="M365.12 123.55L366.93 126.79L363.32 126.79Z" fill="#1f74e0"/><path d="M368.04 121.01L369.84 124.25L366.24 124.25Z" fill="#1f74e0"/><path d="M370.95 159.36L372.75 162.60L369.15 162.60Z" fill="#1f74e0"/><path d="M373.87 172.57L375.67 175.81L372.07 175.81Z" fill="#1f74e0"/><path d="M376.78 161.90L378.58 165.14L374.98 165.14Z" fill="#1f74e0"/><path d="M379.70 132.44L381.50 135.68L377.90 135.68Z" fill="#1f74e0"/><path d="M382.62 180.44L384.42 183.68L380.81 183.68Z" fill="#1f74e0"/><path d="M385.53 113.64L387.33 116.88L383.73 116.88Z" fill="#1f74e0"/><path d="M388.44 119.48L390.25 122.72L386.64 122.72Z" fill="#1f74e0"/><path d="M391.36 156.57L393.16 159.81L389.56 159.81Z" fill="#1f74e0"/><path d="M394.27 149.20L396.07 152.44L392.47 152.44Z" fill="#1f74e0"/><path d="M397.19 115.42L398.99 118.66L395.39 118.66Z" fill="#1f74e0"/><path d="M400.10 126.34L401.90 129.58L398.30 129.58Z" fill="#1f74e0"/><path d="M403.02 140.56L404.82 143.80L401.22 143.80Z" fill="#1f74e0"/><path d="M405.93 140.56L407.73 143.80L404.13 143.80Z" fill="#1f74e0"/><path d="M408.85 115.42L410.65 118.66L407.05 118.66Z" fill="#1f74e0"/><path d="M411.76 113.64L413.56 116.88L409.96 116.88Z" fill="#1f74e0"/><path d="M414.68 111.61L416.48 114.85L412.88 114.85Z" fill="#1f74e0"/><path d="M417.59 141.58L419.39 144.82L415.79 144.82Z" fill="#1f74e0"/><path d="M420.51 160.38L422.31 163.62L418.71 163.62Z" fill="#1f74e0"/><path d="M423.42 131.42L425.22 134.66L421.62 134.66Z" fill="#1f74e0"/><path d="M426.34 143.61L428.14 146.85L424.54 146.85Z" fill="#1f74e0"/><path d="M429.25 176.38L431.06 179.62L427.45 179.62Z" fill="#1f74e0"/><path d="M432.17 133.96L433.97 137.20L430.37 137.20Z" fill="#1f74e0"/><path d="M435.08 146.41L436.88 149.65L433.28 149.65Z" fill="#1f74e0"/><path d="M438.00 138.02L439.80 141.26L436.20 141.26Z" fill="#1f74e0"/><path d="M440.91 141.58L442.71 144.82L439.11 144.82Z" fill="#1f74e0"/><path d="M443.83 157.58L445.63 160.82L442.03 160.82Z" fill="#1f74e0"/><path d="M446.75 150.47L448.55 153.71L444.94 153.71Z" fill="#1f74e0"/><path d="M449.66 146.41L451.46 149.65L447.86 149.65Z" fill="#1f74e0"/><path d="M452.57 22.96L454.38 26.20L450.77 26.20Z" fill="#1f74e0"/><path d="M455.49 128.63L457.29 131.87L453.69 131.87Z" fill="#1f74e0"/><path d="M458.40 130.40L460.20 133.64L456.60 133.64Z" fill="#1f74e0"/><path d="M461.32 151.49L463.12 154.73L459.52 154.73Z" fill="#1f74e0"/><path d="M464.24 131.42L466.04 134.66L462.44 134.66Z" fill="#1f74e0"/><path d="M467.15 128.63L468.95 131.87L465.35 131.87Z" fill="#1f74e0"/><path d="M470.06 187.30L471.86 190.54L468.26 190.54Z" fill="#1f74e0"/><path d="M472.98 127.61L474.78 130.85L471.18 130.85Z" fill="#1f74e0"/><path d="M475.89 95.61L477.69 98.85L474.09 98.85Z" fill="#1f74e0"/><path d="M478.81 162.41L480.61 165.65L477.01 165.65Z" fill="#1f74e0"/><path d="M481.72 179.43L483.52 182.67L479.92 182.67Z" fill="#1f74e0"/><path d="M484.64 137.52L486.44 140.76L482.84 140.76Z" fill="#1f74e0"/><path d="M487.55 159.36L489.35 162.60L485.75 162.60Z" fill="#1f74e0"/><path d="M490.47 90.53L492.27 93.77L488.67 93.77Z" fill="#1f74e0"/><path d="M493.38 115.42L495.19 118.66L491.58 118.66Z" fill="#1f74e0"/><path d="M496.30 119.48L498.10 122.72L494.50 122.72Z" fill="#1f74e0"/><path d="M499.21 122.53L501.01 125.77L497.41 125.77Z" fill="#1f74e0"/><path d="M502.13 116.43L503.93 119.67L500.33 119.67Z" fill="#1f74e0"/><path d="M505.04 161.39L506.84 164.63L503.24 164.63Z" fill="#1f74e0"/><path d="M507.96 161.39L509.76 164.63L506.16 164.63Z" fill="#1f74e0"/><path d="M510.88 117.45L512.67 120.69L509.07 120.69Z" fill="#1f74e0"/><path d="M513.79 113.64L515.59 116.88L511.99 116.88Z" fill="#1f74e0"/><path d="M516.70 128.88L518.50 132.12L514.90 132.12Z" fill="#1f74e0"/><path d="M519.62 122.53L521.42 125.77L517.82 125.77Z" fill="#1f74e0"/><path d="M522.53 141.58L524.33 144.82L520.74 144.82Z" fill="#1f74e0"/></g><path d="M324.31 143.38 L327.23 151.00 L330.14 128.90 L333.06 130.43 L335.97 135.76 L338.89 138.30 L341.80 140.84 L344.72 143.38 L347.63 134.24 L350.55 145.92 L353.46 139.82 L356.38 139.57 L359.29 113.92 L362.21 136.27 L365.12 134.24 L368.04 132.20 L370.95 162.43 L373.87 161.16 L376.78 154.30 L379.70 140.84 L382.62 151.00 L385.53 131.19 L388.44 125.85 L391.36 148.46 L394.27 151.00 L397.19 125.35 L400.10 132.20 L403.02 139.32 L405.93 139.82 L408.85 128.90 L411.76 134.24 L414.68 134.24 L417.59 138.30 L420.51 138.81 L423.42 147.70 L426.34 132.71 L429.25 163.70 L432.17 133.22 L435.08 145.41 L438.00 140.33 L440.91 144.40 L443.83 146.68 L446.75 142.36 L449.66 144.90 L452.57 78.36 L455.49 127.38 L458.40 138.30 L461.32 147.19 L464.24 135.25 L467.15 133.22 L470.06 158.62 L472.98 127.38 L475.89 107.82 L478.81 153.54 L481.72 172.34 L484.64 139.32 L487.55 160.40 L490.47 105.28 L493.38 124.33 L496.30 134.24 L499.21 148.21 L502.13 126.36 L505.04 158.37 L507.96 158.37 L510.88 126.36 L513.79 130.43 L516.70 135.25 L519.62 133.22 L522.53 141.35" fill="none" stroke="#1aad7e" stroke-width="1.0" stroke-linejoin="round"/><g><path d="M324.31 145.13L326.06 141.98L322.56 141.98Z" fill="#0c9f68"/><path d="M327.23 152.75L328.98 149.60L325.48 149.60Z" fill="#0c9f68"/><path d="M330.14 130.65L331.89 127.50L328.39 127.50Z" fill="#0c9f68"/><path d="M333.06 132.18L334.81 129.03L331.31 129.03Z" fill="#0c9f68"/><path d="M335.97 137.51L337.72 134.36L334.22 134.36Z" fill="#0c9f68"/><path d="M338.89 140.05L340.64 136.90L337.14 136.90Z" fill="#0c9f68"/><path d="M341.80 142.59L343.55 139.44L340.05 139.44Z" fill="#0c9f68"/><path d="M344.72 145.13L346.47 141.98L342.97 141.98Z" fill="#0c9f68"/><path d="M347.63 135.99L349.38 132.84L345.88 132.84Z" fill="#0c9f68"/><path d="M350.55 147.67L352.30 144.52L348.80 144.52Z" fill="#0c9f68"/><path d="M353.46 141.57L355.21 138.42L351.71 138.42Z" fill="#0c9f68"/><path d="M356.38 141.32L358.13 138.17L354.63 138.17Z" fill="#0c9f68"/><path d="M359.29 115.67L361.04 112.52L357.54 112.52Z" fill="#0c9f68"/><path d="M362.21 138.02L363.96 134.87L360.46 134.87Z" fill="#0c9f68"/><path d="M365.12 135.99L366.88 132.84L363.38 132.84Z" fill="#0c9f68"/><path d="M368.04 133.95L369.79 130.80L366.29 130.80Z" fill="#0c9f68"/><path d="M370.95 164.18L372.70 161.03L369.20 161.03Z" fill="#0c9f68"/><path d="M373.87 162.91L375.62 159.76L372.12 159.76Z" fill="#0c9f68"/><path d="M376.78 156.05L378.53 152.90L375.03 152.90Z" fill="#0c9f68"/><path d="M379.70 142.59L381.45 139.44L377.95 139.44Z" fill="#0c9f68"/><path d="M382.62 152.75L384.37 149.60L380.87 149.60Z" fill="#0c9f68"/><path d="M385.53 132.94L387.28 129.79L383.78 129.79Z" fill="#0c9f68"/><path d="M388.44 127.60L390.19 124.45L386.69 124.45Z" fill="#0c9f68"/><path d="M391.36 150.21L393.11 147.06L389.61 147.06Z" fill="#0c9f68"/><path d="M394.27 152.75L396.02 149.60L392.52 149.60Z" fill="#0c9f68"/><path d="M397.19 127.10L398.94 123.95L395.44 123.95Z" fill="#0c9f68"/><path d="M400.10 133.95L401.85 130.80L398.35 130.80Z" fill="#0c9f68"/><path d="M403.02 141.07L404.77 137.92L401.27 137.92Z" fill="#0c9f68"/><path d="M405.93 141.57L407.68 138.42L404.18 138.42Z" fill="#0c9f68"/><path d="M408.85 130.65L410.60 127.50L407.10 127.50Z" fill="#0c9f68"/><path d="M411.76 135.99L413.51 132.84L410.01 132.84Z" fill="#0c9f68"/><path d="M414.68 135.99L416.43 132.84L412.93 132.84Z" fill="#0c9f68"/><path d="M417.59 140.05L419.34 136.90L415.84 136.90Z" fill="#0c9f68"/><path d="M420.51 140.56L422.26 137.41L418.76 137.41Z" fill="#0c9f68"/><path d="M423.42 149.45L425.17 146.30L421.67 146.30Z" fill="#0c9f68"/><path d="M426.34 134.46L428.09 131.31L424.59 131.31Z" fill="#0c9f68"/><path d="M429.25 165.45L431.00 162.30L427.50 162.30Z" fill="#0c9f68"/><path d="M432.17 134.97L433.92 131.82L430.42 131.82Z" fill="#0c9f68"/><path d="M435.08 147.16L436.83 144.01L433.33 144.01Z" fill="#0c9f68"/><path d="M438.00 142.08L439.75 138.93L436.25 138.93Z" fill="#0c9f68"/><path d="M440.91 146.15L442.66 143.00L439.16 143.00Z" fill="#0c9f68"/><path d="M443.83 148.43L445.58 145.28L442.08 145.28Z" fill="#0c9f68"/><path d="M446.75 144.11L448.50 140.96L445.00 140.96Z" fill="#0c9f68"/><path d="M449.66 146.65L451.41 143.50L447.91 143.50Z" fill="#0c9f68"/><path d="M452.57 80.11L454.32 76.96L450.82 76.96Z" fill="#0c9f68"/><path d="M455.49 129.13L457.24 125.98L453.74 125.98Z" fill="#0c9f68"/><path d="M458.40 140.05L460.15 136.90L456.65 136.90Z" fill="#0c9f68"/><path d="M461.32 148.94L463.07 145.79L459.57 145.79Z" fill="#0c9f68"/><path d="M464.24 137.00L465.99 133.85L462.49 133.85Z" fill="#0c9f68"/><path d="M467.15 134.97L468.90 131.82L465.40 131.82Z" fill="#0c9f68"/><path d="M470.06 160.37L471.81 157.22L468.31 157.22Z" fill="#0c9f68"/><path d="M472.98 129.13L474.73 125.98L471.23 125.98Z" fill="#0c9f68"/><path d="M475.89 109.57L477.64 106.42L474.14 106.42Z" fill="#0c9f68"/><path d="M478.81 155.29L480.56 152.14L477.06 152.14Z" fill="#0c9f68"/><path d="M481.72 174.09L483.47 170.94L479.97 170.94Z" fill="#0c9f68"/><path d="M484.64 141.07L486.39 137.92L482.89 137.92Z" fill="#0c9f68"/><path d="M487.55 162.15L489.30 159.00L485.80 159.00Z" fill="#0c9f68"/><path d="M490.47 107.03L492.22 103.88L488.72 103.88Z" fill="#0c9f68"/><path d="M493.38 126.08L495.13 122.93L491.63 122.93Z" fill="#0c9f68"/><path d="M496.30 135.99L498.05 132.84L494.55 132.84Z" fill="#0c9f68"/><path d="M499.21 149.96L500.96 146.81L497.46 146.81Z" fill="#0c9f68"/><path d="M502.13 128.11L503.88 124.96L500.38 124.96Z" fill="#0c9f68"/><path d="M505.04 160.12L506.79 156.97L503.29 156.97Z" fill="#0c9f68"/><path d="M507.96 160.12L509.71 156.97L506.21 156.97Z" fill="#0c9f68"/><path d="M510.88 128.11L512.62 124.96L509.12 124.96Z" fill="#0c9f68"/><path d="M513.79 132.18L515.54 129.03L512.04 129.03Z" fill="#0c9f68"/><path d="M516.70 137.00L518.45 133.85L514.95 133.85Z" fill="#0c9f68"/><path d="M519.62 134.97L521.37 131.82L517.87 131.82Z" fill="#0c9f68"/><path d="M522.53 143.10L524.28 139.95L520.78 139.95Z" fill="#0c9f68"/></g><rect x="306.65" y="11.30" width="233.35" height="228.60" fill="none" stroke="#2a2a2a" stroke-width="1.35"/><line x1="305.05" y1="239.90" x2="306.65" y2="239.90" stroke="#222" stroke-width="1"/><text x="304.40" y="243.80" text-anchor="end" font-size="12.5" font-weight="bold">-4</text><line x1="305.05" y1="214.50" x2="306.65" y2="214.50" stroke="#222" stroke-width="1"/><text x="304.40" y="218.40" text-anchor="end" font-size="12.5" font-weight="bold">-3</text><line x1="305.05" y1="189.10" x2="306.65" y2="189.10" stroke="#222" stroke-width="1"/><text x="304.40" y="193.00" text-anchor="end" font-size="12.5" font-weight="bold">-2</text><line x1="305.05" y1="163.70" x2="306.65" y2="163.70" stroke="#222" stroke-width="1"/><text x="304.40" y="167.60" text-anchor="end" font-size="12.5" font-weight="bold">-1</text><line x1="305.05" y1="138.30" x2="306.65" y2="138.30" stroke="#222" stroke-width="1"/><text x="304.40" y="142.20" text-anchor="end" font-size="12.5" font-weight="bold">0</text><line x1="305.05" y1="112.90" x2="306.65" y2="112.90" stroke="#222" stroke-width="1"/><text x="304.40" y="116.80" text-anchor="end" font-size="12.5" font-weight="bold">1</text><line x1="305.05" y1="87.50" x2="306.65" y2="87.50" stroke="#222" stroke-width="1"/><text x="304.40" y="91.40" text-anchor="end" font-size="12.5" font-weight="bold">2</text><line x1="305.05" y1="62.10" x2="306.65" y2="62.10" stroke="#222" stroke-width="1"/><text x="304.40" y="66.00" text-anchor="end" font-size="12.5" font-weight="bold">3</text><line x1="305.05" y1="36.70" x2="306.65" y2="36.70" stroke="#222" stroke-width="1"/><text x="304.40" y="40.60" text-anchor="end" font-size="12.5" font-weight="bold">4</text><line x1="305.05" y1="11.30" x2="306.65" y2="11.30" stroke="#222" stroke-width="1"/><text x="304.40" y="15.20" text-anchor="end" font-size="12.5" font-weight="bold">5</text><line x1="321.40" y1="239.90" x2="321.40" y2="241.60" stroke="#222" stroke-width="1"/><text x="321.40" y="252.30" text-anchor="middle" font-size="12.5" font-weight="bold">0</text><line x1="350.55" y1="239.90" x2="350.55" y2="241.60" stroke="#222" stroke-width="1"/><text x="350.55" y="252.30" text-anchor="middle" font-size="12.5" font-weight="bold">10</text><line x1="379.70" y1="239.90" x2="379.70" y2="241.60" stroke="#222" stroke-width="1"/><text x="379.70" y="252.30" text-anchor="middle" font-size="12.5" font-weight="bold">20</text><line x1="408.85" y1="239.90" x2="408.85" y2="241.60" stroke="#222" stroke-width="1"/><text x="408.85" y="252.30" text-anchor="middle" font-size="12.5" font-weight="bold">30</text><line x1="438.00" y1="239.90" x2="438.00" y2="241.60" stroke="#222" stroke-width="1"/><text x="438.00" y="252.30" text-anchor="middle" font-size="12.5" font-weight="bold">40</text><line x1="467.15" y1="239.90" x2="467.15" y2="241.60" stroke="#222" stroke-width="1"/><text x="467.15" y="252.30" text-anchor="middle" font-size="12.5" font-weight="bold">50</text><line x1="496.30" y1="239.90" x2="496.30" y2="241.60" stroke="#222" stroke-width="1"/><text x="496.30" y="252.30" text-anchor="middle" font-size="12.5" font-weight="bold">60</text><line x1="525.45" y1="239.90" x2="525.45" y2="241.60" stroke="#222" stroke-width="1"/><text x="525.45" y="252.30" text-anchor="middle" font-size="12.5" font-weight="bold">70</text><text x="423.72" y="272.2" text-anchor="middle" font-size="12.8" font-weight="bold">Fitting points</text><text transform="translate(288.40,125.60) rotate(-90)" x="0" y="0" text-anchor="middle" font-size="12.9" font-weight="bold">North error(mm/a)</text><text x="310.45" y="24.20" font-size="15.3" font-weight="bold">(b)</text><rect x="479.15" y="12.30" width="58.45" height="54.80" fill="#fff" stroke="#3a3a3a" stroke-width="1"/><line x1="480.65" y1="22.05" x2="498.95" y2="22.05" stroke="#707070" stroke-width="1"/><rect x="487.85" y="20.55" width="3.00" height="3.00" fill="#333333"/><text x="501.15" y="24.90" font-size="10.8" font-weight="bold">TLSC</text><line x1="480.65" y1="35.20" x2="498.95" y2="35.20" stroke="#2a86dc" stroke-width="1"/><path d="M489.35 33.40L491.15 36.64L487.55 36.64Z" fill="#1f74e0"/><text x="501.15" y="38.05" font-size="10.8" font-weight="bold">DLSC</text><line x1="480.65" y1="48.35" x2="498.95" y2="48.35" stroke="#ee4040" stroke-width="1"/><circle cx="489.35" cy="48.35" r="1.6" fill="#f02020"/><text x="501.15" y="51.20" font-size="10.8" font-weight="bold">ALSC</text><line x1="480.65" y1="61.50" x2="498.95" y2="61.50" stroke="#1aad7e" stroke-width="1"/><path d="M489.35 63.25L491.10 60.10L487.60 60.10Z" fill="#0c9f68"/><text x="501.15" y="64.35" font-size="10.8" font-weight="bold">ADLSC</text></svg>
</body></html>
